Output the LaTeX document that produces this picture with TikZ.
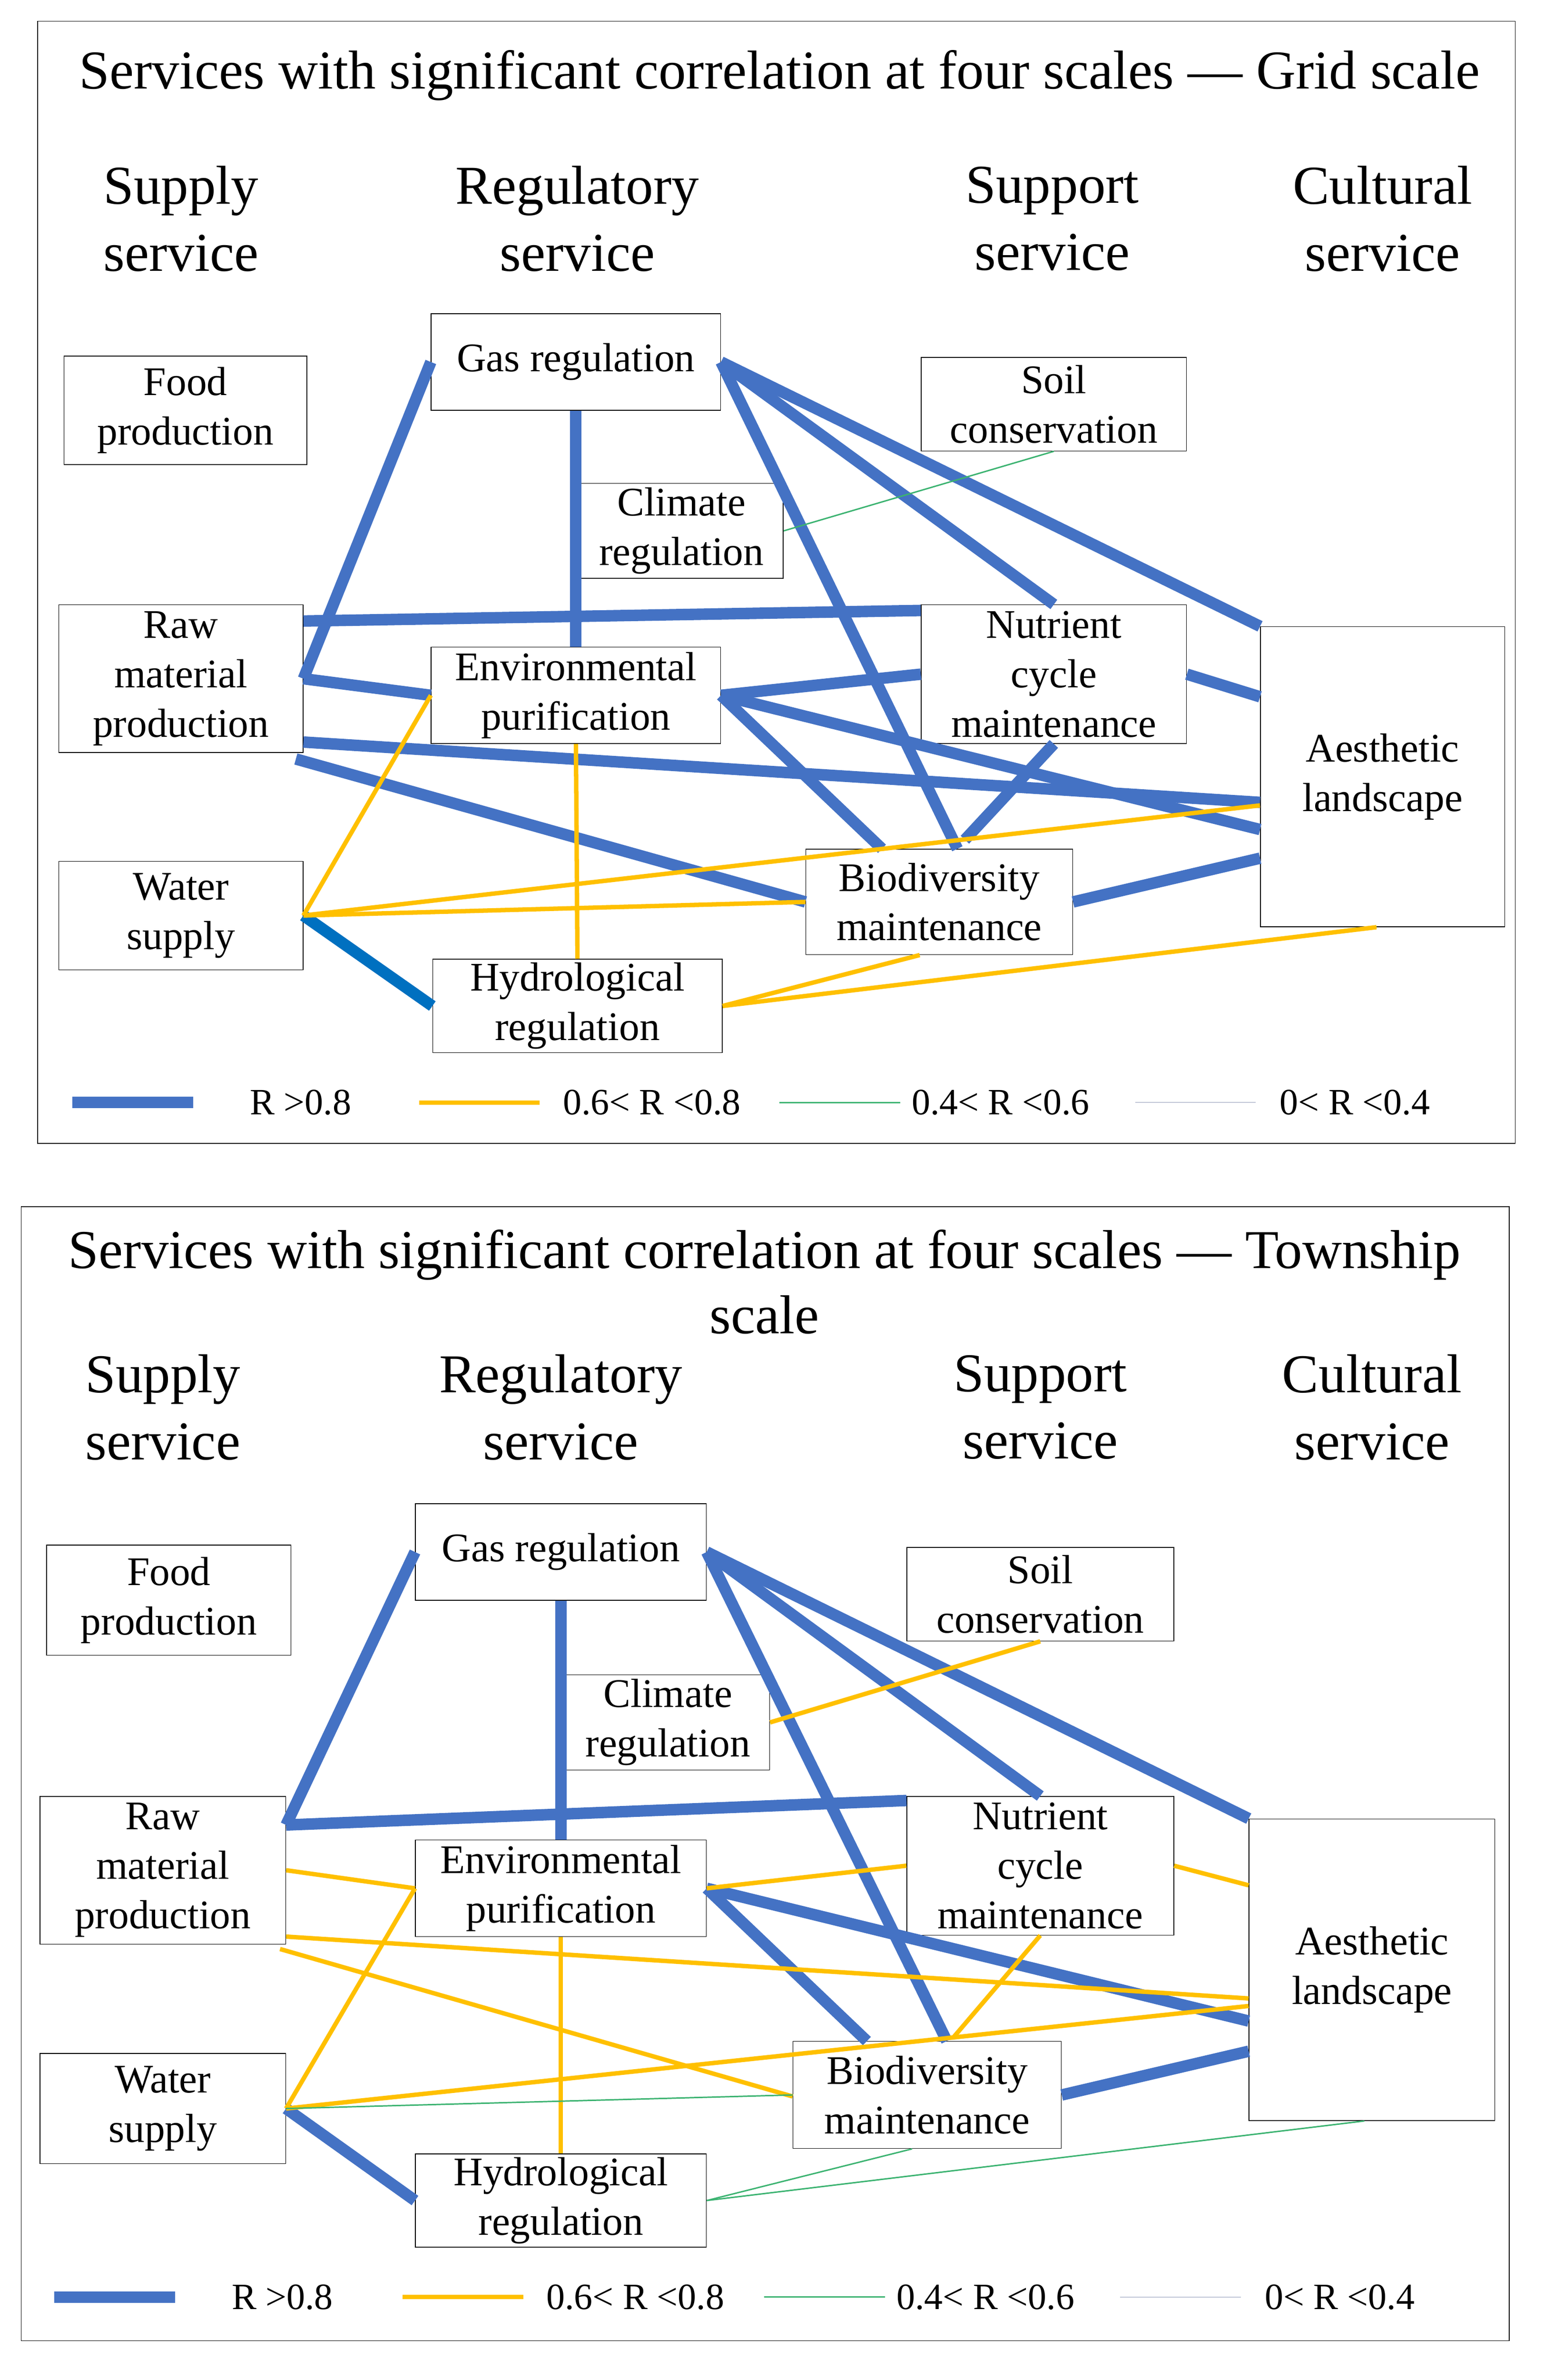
\documentclass[tikz,border=0pt]{standalone}
\usepackage{fontspec}
\setmainfont{Liberation Serif}
\usetikzlibrary{calc}
\definecolor{rblue}{HTML}{4472C4}
\definecolor{rdblue}{HTML}{0070C0}
\definecolor{ryellow}{HTML}{FFC000}
\definecolor{rgreen}{HTML}{3CB371}
\definecolor{rgray}{HTML}{BFC5D6}
\tikzset{
    box/.style = {
        draw,
        thin,
        align=center,
        inner sep=0pt,
        font=\fontsize{23}{28}\selectfont,
    },
    head/.style = {
        align=center,
        font=\fontsize{31}{38}\selectfont,
    },
    ttl/.style = {
        font=\fontsize{31}{37}\selectfont,
    },
    leg/.style = {
        text=black,
        font=\fontsize{21}{24}\selectfont,
    },
    strong/.style = {
        line width=6.5pt,
        rblue,
    },
    mid/.style = {
        line width=2.5pt,
        ryellow,
    },
    weak/.style = {
        line width=0.8pt,
        rgreen,
    },
    faint/.style = {
        line width=0.5pt,
        rgray,
    }
}

\begin{document}
\begin{tikzpicture}[x=0.03cm, y=-0.03cm]
  \useasboundingbox (0,0) rectangle (1024,1578);

  % Grid scale
  \draw[thin] (25,14) rectangle (1005,758);
  \node[ttl] (title1) at (517,50) {Services with significant\ correlation at four\ scales — Grid scale};
  \node[head] (hsup1) at (120,145) {Supply\\service};
  \node[head] (hreg1) at (383,145) {Regulatory\\service};
  \node[head] (hspt1) at (698,145) {Support\\service};
  \node[head] (hcul1) at (917,145) {Cultural\\service};

  \node[box, minimum width=4.83cm, minimum height=2.16cm] (food1) at (123,272) {Food\\production};
  \node[box, minimum width=5.76cm, minimum height=1.92cm] (gas1) at (382,240) {Gas regulation};
  \node[box, minimum width=5.28cm, minimum height=1.86cm] (soil1) at (699,268) {Soil\\conservation};
  \node[box, minimum width=4.05cm, minimum height=1.89cm] (clim1) at (452,352) {Climate\\regulation};
  \node[box, minimum width=4.86cm, minimum height=2.94cm] (raw1) at (120,450) {Raw\\material\\production};
  \node[box, minimum width=5.76cm, minimum height=1.92cm] (env1) at (382,461) {Environmental\\purification};
  \node[box, minimum width=5.28cm, minimum height=2.76cm] (nut1) at (699,447) {Nutrient\\cycle\\maintenance};
  \node[box, minimum width=4.86cm, minimum height=5.97cm] (aes1) at (917,515) {Aesthetic\\landscape};
  \node[box, minimum width=4.86cm, minimum height=2.16cm] (wat1) at (120,607) {Water\\supply};
  \node[box, minimum width=5.31cm, minimum height=2.10cm] (bio1) at (623,598) {Biodiversity\\maintenance};
  \node[box, minimum width=5.76cm, minimum height=1.86cm] (hyd1) at (383,667) {Hydrological\\regulation};

  \draw[strong] (gas1.west) -- (raw1.east);
  \draw[strong] (gas1.south) -- (env1.north);
  \draw[strong] (gas1.east) -- (aes1.north west);
  \draw[strong] (gas1.east) -- (nut1.north);
  \draw[strong] (gas1.east) -- ($(bio1.north)+(12,0)$);
  \draw[strong] ($(raw1.north east)+(0,11)$) -- ($(nut1.north west)+(0,4)$);
  \draw[strong] (raw1.east) -- (env1.west);
  \draw[strong] ($(raw1.east)+(0,42)$) -- ($(aes1.west)+(0,17)$);
  \draw[strong] ($(raw1.south east)+(-5,4)$) -- (bio1.west);
  \draw[strong] (env1.east) -- (nut1.west);
  \draw[strong] (env1.east) -- ($(bio1.north)+(-38,0)$);
  \draw[strong] (env1.east) -- ($(aes1.west)+(0,35)$);
  \draw[strong] (nut1.east) -- ($(aes1.west)+(0,-53)$);
  \draw[strong] (nut1.south) -- ($(bio1.north)+(17,-6)$);
  \draw[strong] (bio1.east) -- ($(aes1.west)+(0,54)$);
  \draw[strong, rdblue] (wat1.east) -- (hyd1.west);
  \draw[mid] (wat1.east) -- (env1.west);
  \draw[mid] (wat1.east) -- ($(aes1.west)+(0,19)$);
  \draw[mid] (wat1.east) -- (bio1.west);
  \draw[mid] (env1.south) -- (hyd1.north);
  \draw[mid] (hyd1.east) -- ($(bio1.south)+(-13,0)$);
  \draw[mid] (hyd1.east) -- ($(aes1.south)+(-4,0)$);
  \draw[weak] (clim1.east) -- (soil1.south);

  \coordinate (lg1) at (48,731);
  \draw[strong] (lg1) -- +(80,0) node[leg, right=0.9cm] (ls1) {R >0.8};
  \draw[mid] ($(lg1)+(230,0)$) -- +(80,0) node[leg, right=0.3cm] (lm1) {0.6< R <0.8};
  \draw[weak] ($(lg1)+(469,0)$) -- +(80,0) node[leg, right=0.1cm] (lw1) {0.4< R <0.6};
  \draw[faint] ($(lg1)+(705,0)$) -- +(80,0) node[leg, right=0.35cm] (lf1) {0< R <0.4};

  % Township scale
  \draw[thin] (14,800) rectangle (1001,1552);
  \node[ttl, align=center] (title2) at (507,850) {Services with significant\ correlation at four\ scales — Township\\scale};
  \node[head] (hsup2) at (108,933) {Supply\\service};
  \node[head] (hreg2) at (372,933) {Regulatory\\service};
  \node[head] (hspt2) at (690,933) {Support\\service};
  \node[head] (hcul2) at (910,933) {Cultural\\service};

  \node[box, minimum width=4.86cm, minimum height=2.19cm] (food2) at (112,1061) {Food\\production};
  \node[box, minimum width=5.79cm, minimum height=1.92cm] (gas2) at (372,1029) {Gas regulation};
  \node[box, minimum width=5.31cm, minimum height=1.86cm] (soil2) at (690,1057) {Soil\\conservation};
  \node[box, minimum width=4.05cm, minimum height=1.89cm] (clim2) at (443,1142) {Climate\\regulation};
  \node[box, minimum width=4.89cm, minimum height=2.94cm] (raw2) at (108,1240) {Raw\\material\\production};
  \node[box, minimum width=5.79cm, minimum height=1.92cm] (env2) at (372,1252) {Environmental\\purification};
  \node[box, minimum width=5.31cm, minimum height=2.76cm] (nut2) at (690,1237) {Nutrient\\cycle\\maintenance};
  \node[box, minimum width=4.89cm, minimum height=6.00cm] (aes2) at (910,1306) {Aesthetic\\landscape};
  \node[box, minimum width=4.89cm, minimum height=2.19cm] (wat2) at (108,1398) {Water\\supply};
  \node[box, minimum width=5.34cm, minimum height=2.13cm] (bio2) at (615,1389) {Biodiversity\\maintenance};
  \node[box, minimum width=5.79cm, minimum height=1.86cm] (hyd2) at (372,1459) {Hydrological\\regulation};

  \draw[strong] (gas2.west) -- ($(raw2.east)+(0,-30)$);
  \draw[strong] (gas2.south) -- (env2.north);
  \draw[strong] (gas2.east) -- (aes2.north west);
  \draw[strong] (gas2.east) -- (nut2.north);
  \draw[strong] (gas2.east) -- ($(bio2.north)+(13,0)$);
  \draw[strong] ($(raw2.east)+(0,-30)$) -- ($(nut2.north west)+(0,3)$);
  \draw[strong] (env2.east) -- ($(aes2.west)+(0,34)$);
  \draw[strong] (env2.east) -- ($(bio2.north)+(-40,0)$);
  \draw[strong] (bio2.east) -- ($(aes2.west)+(0,54)$);
  \draw[strong] (wat2.east) -- (hyd2.west);
  \draw[mid] (raw2.east) -- (env2.west);
  \draw[mid] (wat2.east) -- (env2.west);
  \draw[mid] ($(raw2.east)+(0,44)$) -- ($(aes2.west)+(0,19)$);
  \draw[mid] ($(raw2.south east)+(-4,3)$) -- ($(bio2.west)+(0,1)$);
  \draw[mid] (wat2.east) -- ($(aes2.west)+(0,24)$);
  \draw[mid] (clim2.east) -- (soil2.south);
  \draw[mid] (env2.east) -- (nut2.west);
  \draw[mid] (nut2.east) -- ($(aes2.west)+(0,-56)$);
  \draw[mid] (nut2.south) -- ($(bio2.north)+(17,-2)$);
  \draw[mid] (env2.south) -- (hyd2.north);
  \draw[weak] (wat2.east) -- (bio2.west);
  \draw[weak] (hyd2.east) -- ($(bio2.south)+(-10,0)$);
  \draw[weak] (hyd2.east) -- ($(aes2.south)+(-5,0)$);

  \coordinate (lg2) at (36,1523);
  \draw[strong] (lg2) -- +(80,0) node[leg, right=0.9cm] (ls2) {R >0.8};
  \draw[mid] ($(lg2)+(231,0)$) -- +(80,0) node[leg, right=0.3cm] (lm2) {0.6< R <0.8};
  \draw[weak] ($(lg2)+(471,0)$) -- +(80,0) node[leg, right=0.1cm] (lw2) {0.4< R <0.6};
  \draw[faint] ($(lg2)+(707,0)$) -- +(80,0) node[leg, right=0.35cm] (lf2) {0< R <0.4};
\end{tikzpicture}
\end{document}
